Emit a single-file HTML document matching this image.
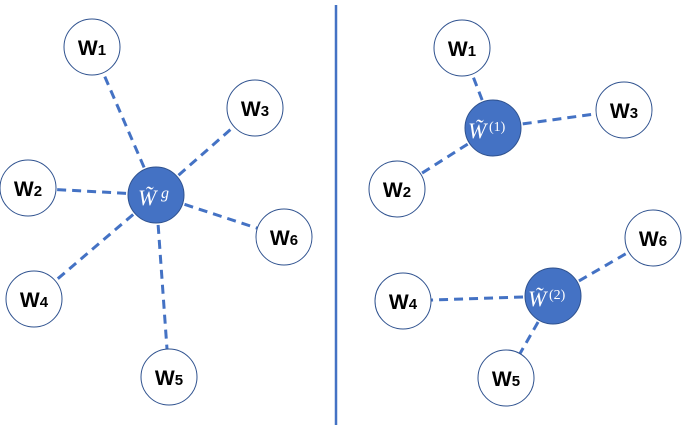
<!DOCTYPE html>
<html><head><style>body{margin:0;background:#fff}svg{display:block}</style></head><body>
<svg width="685" height="425" viewBox="0 0 685 425" xmlns="http://www.w3.org/2000/svg">
<line x1="336" y1="5" x2="336" y2="425" stroke="#4472C4" stroke-width="2.5"/>
<g stroke="#4472C4" stroke-width="3" stroke-dasharray="9,6">
<line x1="156" y1="195" x2="92" y2="47"/>
<line x1="156" y1="195" x2="255" y2="108"/>
<line x1="156" y1="195" x2="28" y2="188"/>
<line x1="156" y1="195" x2="284" y2="237"/>
<line x1="156" y1="195" x2="34" y2="299"/>
<line x1="156" y1="195" x2="169" y2="377"/>
<line x1="493" y1="128" x2="462" y2="48"/>
<line x1="493" y1="128" x2="624" y2="110"/>
<line x1="493" y1="128" x2="397" y2="189"/>
<line x1="553" y1="296" x2="653" y2="238"/>
<line x1="553" y1="296" x2="403" y2="301"/>
<line x1="553" y1="296" x2="506" y2="378"/>
</g>
<g fill="#fff" stroke="#2F528F" stroke-width="1">
<circle cx="92" cy="47" r="28"/><circle cx="255" cy="108" r="28"/><circle cx="28" cy="188" r="28"/>
<circle cx="284" cy="237" r="28"/><circle cx="34" cy="299" r="28"/><circle cx="169" cy="377" r="28"/>
<circle cx="462" cy="48" r="28"/><circle cx="624" cy="110" r="28"/><circle cx="397" cy="189" r="28"/>
<circle cx="653" cy="238" r="28"/><circle cx="403" cy="301" r="28"/><circle cx="506" cy="378" r="28"/>
</g>
<g fill="#4472C4" stroke="#2F528F" stroke-width="1">
<circle cx="156" cy="195" r="28"/><circle cx="493" cy="128" r="28"/><circle cx="553" cy="296" r="28"/>
</g>
<g font-family="Liberation Sans, sans-serif" font-weight="bold" font-size="21" fill="#000" text-anchor="middle">
<text x="92" y="55">W<tspan font-size="15">1</tspan></text>
<text x="255" y="116">W<tspan font-size="15">3</tspan></text>
<text x="28" y="196">W<tspan font-size="15">2</tspan></text>
<text x="284" y="245">W<tspan font-size="15">6</tspan></text>
<text x="34" y="307">W<tspan font-size="15">4</tspan></text>
<text x="169" y="385">W<tspan font-size="15">5</tspan></text>
<text x="462" y="56">W<tspan font-size="15">1</tspan></text>
<text x="624" y="118">W<tspan font-size="15">3</tspan></text>
<text x="397" y="197">W<tspan font-size="15">2</tspan></text>
<text x="653" y="246">W<tspan font-size="15">6</tspan></text>
<text x="403" y="309">W<tspan font-size="15">4</tspan></text>
<text x="506" y="386">W<tspan font-size="15">5</tspan></text>
</g>
<g font-family="Liberation Serif, serif" font-style="italic" fill="#fff">
<text x="138" y="205" font-size="22">W̃</text><text x="161" y="198" font-size="16">g</text>
<text x="468" y="138" font-size="22">W̃</text><text x="489" y="131" font-size="14" font-style="normal">(1)</text>
<text x="528" y="306" font-size="22">W̃</text><text x="549" y="299" font-size="14" font-style="normal">(2)</text>
</g>
</svg>
</body></html>
